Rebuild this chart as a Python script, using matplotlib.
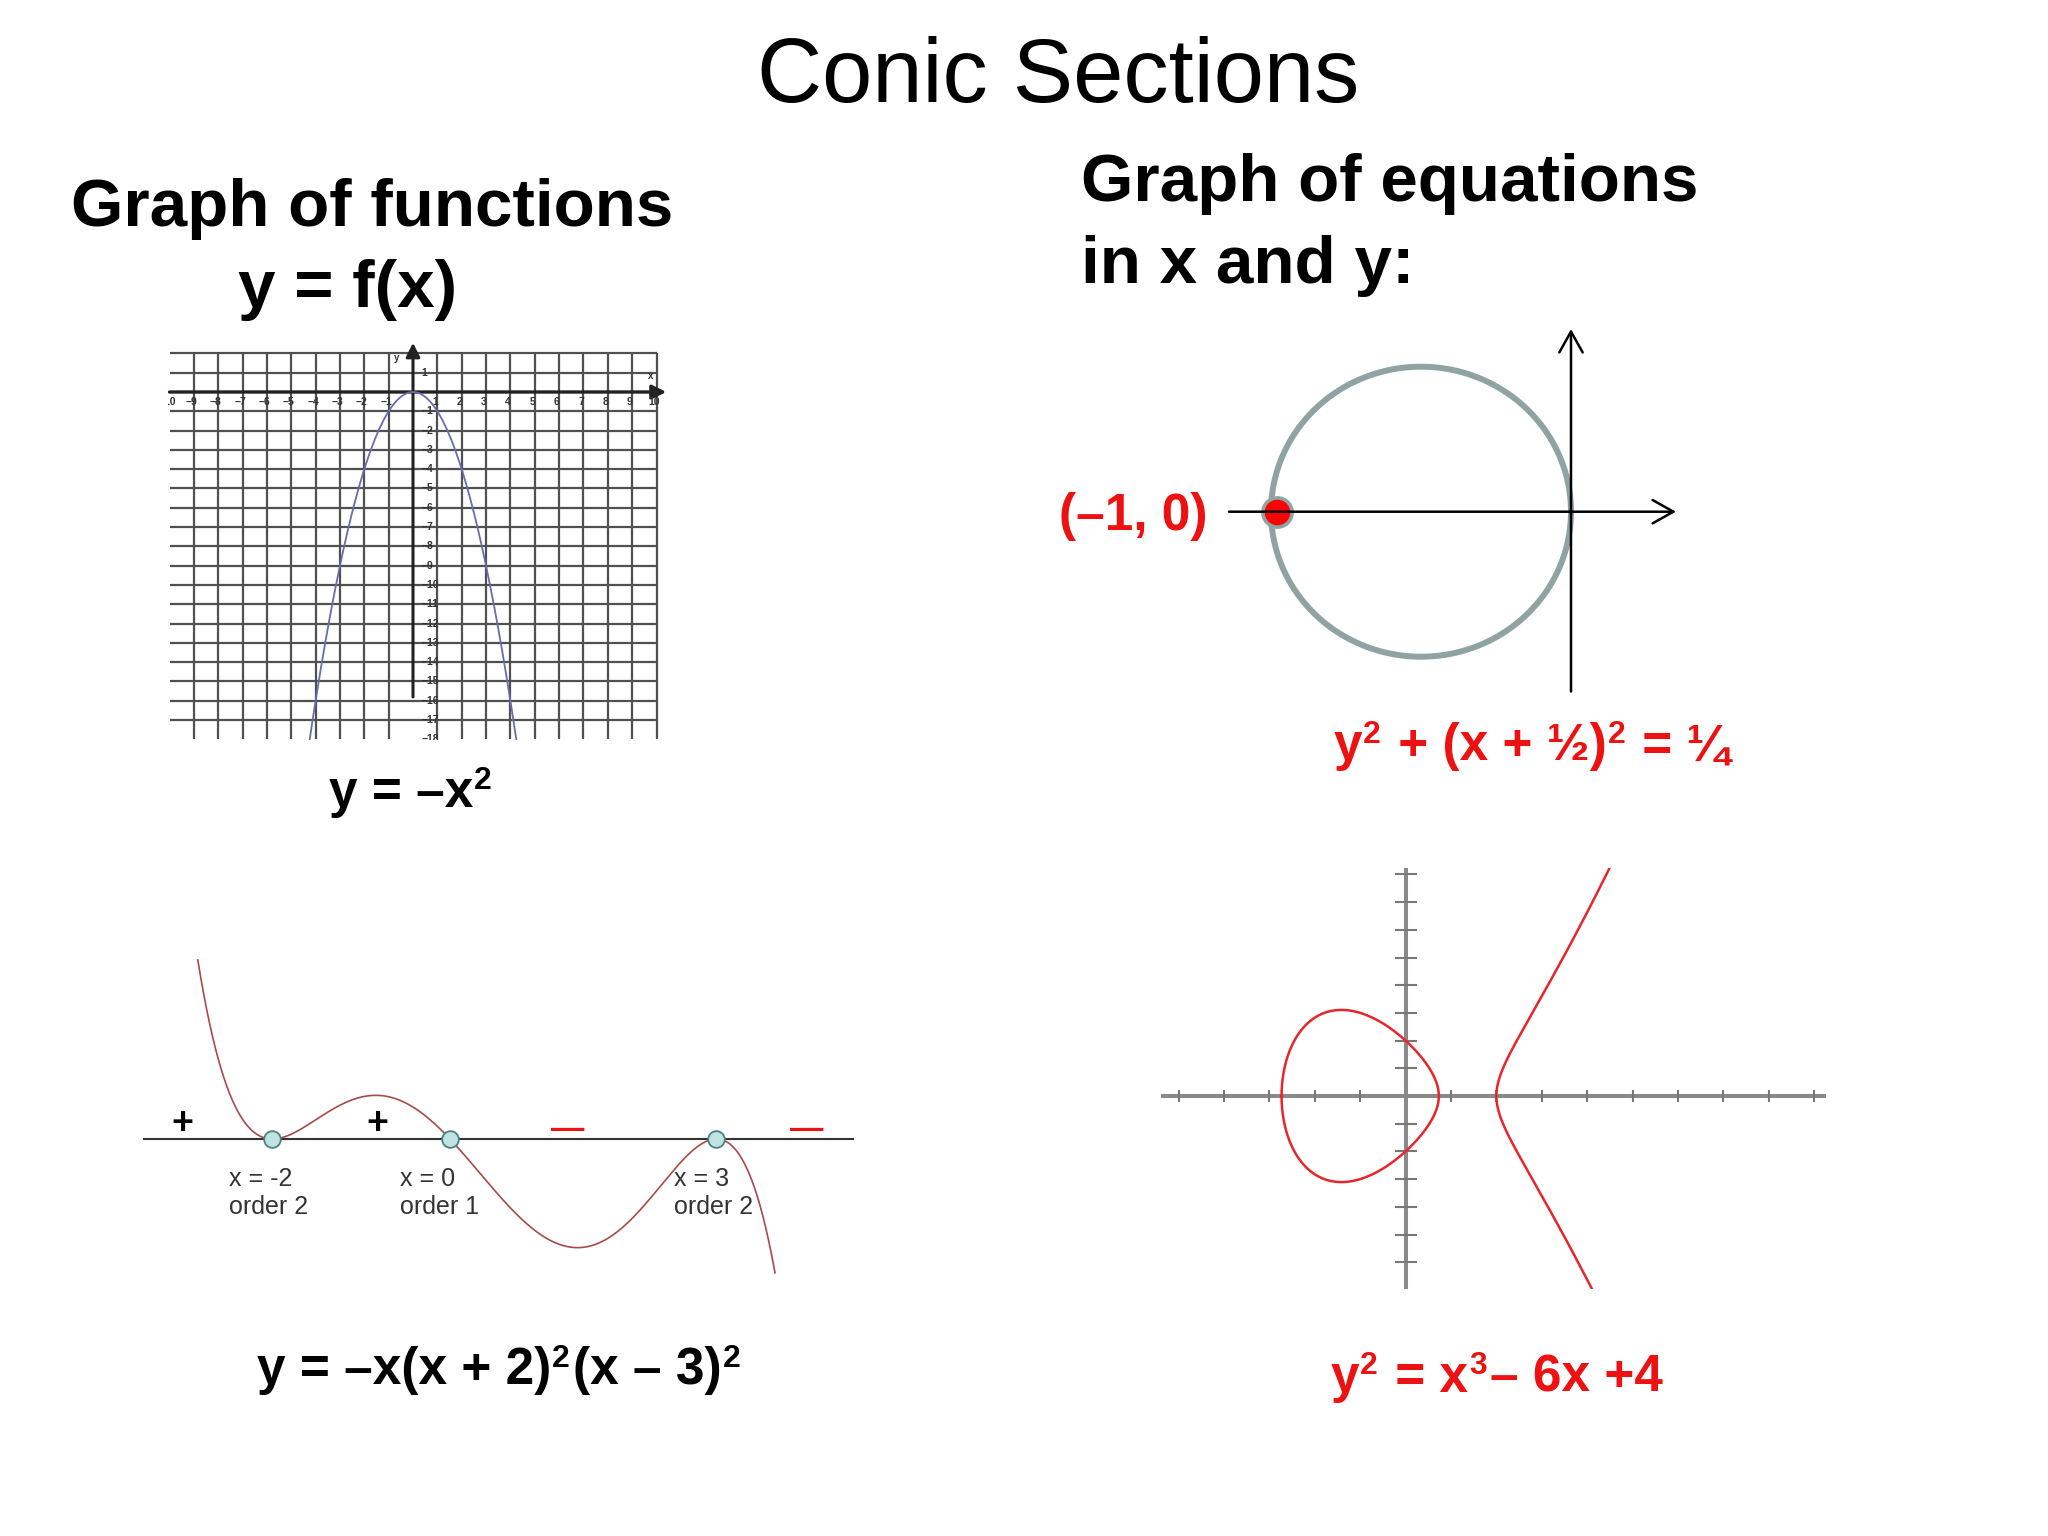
import numpy as np
import matplotlib
matplotlib.use("Agg")
import matplotlib.pyplot as plt

# ------------------------------------------------------------------ data
title = "Conic Sections"
left_heading = ["Graph of functions", "y = f(x)"]
right_heading = ["Graph of equations", "in x and y:"]

# Panel A : parabola y = a*x^2 on a grid
parab_coef = -1.0
parab_x_range = (-4.35, 4.35)
gridA_vlines = [v for v in range(-9, 11) if v != 0]
gridA_hlines = [v for v in range(-17, 3) if v != 0]
gridA_xlabels = [v for v in range(-10, 11) if v != 0]
gridA_ylabels = [1] + list(range(-1, -19, -1))
caption_A = [("y = \u2013x", False), ("2", True)]

# Panel B : y = -x (x+2)^2 (x-3)^2
roots_B = [-2, 0, 3]
orders_B = [2, 1, 2]
lead_sign_B = -1
B_x_range = (-2.84, 3.66)
root_labels_B = ["x = -2\norder 2", "x = 0\norder 1", "x = 3\norder 2"]
root_label_x_B = [-2.49, -0.565, 2.52]
sign_x_B = [-3.02, -0.815, 1.33, 4.02]
sign_text_B = ["+", "+", "\u2014", "\u2014"]
sign_color_B = ["black", "black", "#ee1111", "#ee1111"]
caption_B = [("y = \u2013x(x + 2)", False), ("2", True), ("(x \u2013 3)", False), ("2", True)]

# Panel C : circle y^2 + (x + 1/2)^2 = 1/4
circle_center = (-0.5, 0.0)
circle_radius = 0.5
point_C = (-1.0, 0.0)
point_label_C = "(\u20131, 0)"
caption_C = [("y", False), ("2", True), (" + (x + \u00bd)", False), ("2", True), (" = \u00bc", False)]

# Panel D : y^2 = x^3 - 6x + 4
cubic_coef = [1, 0, -6, 4]
D_branch_xmax = 4.7
D_xticks = [v for v in range(-5, 10) if v != 0]
D_yticks = [v for v in range(-6, 9) if v != 0]
caption_D = [("y", False), ("2", True), (" = x", False), ("3", True), ("\u2013 6x +4", False)]

# ------------------------------------------------------------------ figure
W, H, DPI = 2048, 1536, 100
plt.rcParams["font.family"] = ["Liberation Sans", "DejaVu Sans"]
fig = plt.figure(figsize=(W / DPI, H / DPI), dpi=DPI, facecolor="white")
renderer = fig.canvas.get_renderer()


def panel(ox, oy, ux, uy, xlim, ylim):
    left = ox + xlim[0] * ux
    right = ox + xlim[1] * ux
    top = oy - ylim[1] * uy
    bottom = oy - ylim[0] * uy
    ax = fig.add_axes([left / W, 1 - bottom / H, (right - left) / W, (bottom - top) / H])
    ax.set_xlim(*xlim)
    ax.set_ylim(*ylim)
    ax.axis("off")
    return ax


def ftext(x, y, s, **kw):
    return fig.text(x / W, 1 - y / H, s, **kw)


def rich_text(xc, ybase, segments, fontsize, color="black", sup_scale=0.62, raise_frac=0.34):
    pieces = []
    total = 0.0
    for s, sup in segments:
        fs = fontsize * sup_scale if sup else fontsize
        t = ftext(0, 0, s, fontsize=fs, fontweight="bold", color=color,
                  ha="left", va="baseline")
        w = t.get_window_extent(renderer).width
        w += fontsize * (0.06 if sup else 0.02) * DPI / 72
        pieces.append((t, w, sup))
        total += w
    x = xc - total / 2
    for t, w, sup in pieces:
        y = ybase - (fontsize * raise_frac * DPI / 72 if sup else 0)
        t.set_position((x / W, 1 - y / H))
        x += w


# ------------------------------------------------------------------ headings
ftext(1058, 102, title, ha="center", va="baseline", fontsize=65, color="black")
ftext(372, 226, left_heading[0], ha="center", va="baseline", fontsize=48.5, fontweight="bold")
ftext(348, 306.7, left_heading[1], ha="center", va="baseline", fontsize=48.5, fontweight="bold")
ftext(1081, 201, right_heading[0], ha="left", va="baseline", fontsize=48.5, fontweight="bold")
ftext(1081, 283, right_heading[1], ha="left", va="baseline", fontsize=48.5, fontweight="bold")

# ------------------------------------------------------------------ panel A
axA = panel(413, 392, 24.35, 19.3, (-10.05, 10.45), (-18.05, 2.6))
axA.hlines(gridA_hlines, -10, 10, color="#505050", lw=1.6)
axA.vlines(gridA_vlines, -18, 2, color="#505050", lw=1.6)
axA.annotate("", xy=(10.4, 0), xytext=(-10, 0),
             arrowprops=dict(arrowstyle="-|>,head_length=0.6,head_width=0.3", color="#222",
                             lw=2.4, mutation_scale=14, shrinkA=0, shrinkB=0))
axA.annotate("", xy=(0, 2.55), xytext=(0, -15.8),
             arrowprops=dict(arrowstyle="-|>,head_length=0.6,head_width=0.3", color="#222",
                             lw=2.2, mutation_scale=14, shrinkA=0, shrinkB=0))
for v in gridA_xlabels:
    axA.text(v - 0.1, -0.5, str(v).replace("-", "\u2212"), fontsize=7.5, ha="center",
             va="center", color="#333", fontweight="bold", clip_on=True)
for v in gridA_ylabels:
    axA.text(0.35, v, str(v).replace("-", "\u2212"), fontsize=7.5, ha="left", va="center",
             color="#333", fontweight="bold", clip_on=True)
axA.text(-0.55, 1.75, "y", fontsize=7, ha="right", va="center", color="#333", fontweight="bold")
axA.text(9.75, 0.55, "x", fontsize=7, ha="center", va="bottom", color="#333", fontweight="bold")
xa = np.linspace(*parab_x_range, 400)
axA.plot(xa, parab_coef * xa ** 2, color="#6b6bb0", lw=1.3, zorder=4)
rich_text(412, 806.7, caption_A, 37)

# ------------------------------------------------------------------ panel B
axB = panel(450, 1139, 88.8, 2.62, (-3.5, 4.6), (-56, 72))
axB.plot([-3.45, 4.54], [0, 0], color="#333", lw=1.5, zorder=2)
xb = np.linspace(*B_x_range, 800)
yb = lead_sign_B * np.ones_like(xb)
for r, o in zip(roots_B, orders_B):
    yb = yb * (xb - r) ** o
axB.plot(xb, yb, color="#a84a4a", lw=1.2, zorder=3, clip_on=False)
axB.plot(roots_B, np.zeros(len(roots_B)), "o", ms=12, mfc="#bfe2e2", mec="#4d8080",
         mew=1.3, zorder=5, clip_on=False)
for x, s, c in zip(sign_x_B, sign_text_B, sign_color_B):
    if s == "+":
        axB.text(x, 5.6, s, fontsize=27, fontweight="bold", color=c, ha="center", va="center")
    else:
        axB.text(x, 3.6, s, fontsize=24, fontweight="bold", color=c, ha="center", va="center")
for x, s in zip(root_label_x_B, root_labels_B):
    axB.text(x, -10.7, s, fontsize=18, color="#333", ha="left", va="top", linespacing=1.2)
rich_text(500, 1384, caption_B, 37)

# ------------------------------------------------------------------ panel C
axC = panel(1571, 511.7, 300, 290, (-1.2, 0.42), (-0.66, 0.66))
tc = np.linspace(0, 2 * np.pi, 500)
axC.plot(circle_center[0] + circle_radius * np.cos(tc),
         circle_center[1] + circle_radius * np.sin(tc), color="#8fa3a3", lw=4.3, zorder=2)
axC.plot(point_C[0] + 0.02, point_C[1], "o", ms=21, mfc="#ff0000", mec="#8fa3a3",
         mew=2.6, zorder=3)
arrow_kw = dict(arrowstyle="->,head_length=0.5,head_width=0.28", color="black", lw=1.8,
                mutation_scale=30, shrinkA=0, shrinkB=0)
axC.annotate("", xy=(0.35, 0), xytext=(-1.14, 0), arrowprops=arrow_kw, zorder=4)
axC.annotate("", xy=(0, 0.63), xytext=(0, -0.62), arrowprops=arrow_kw, zorder=4)
axC.text(-1.213, -0.063, point_label_C, ha="right", va="baseline", fontsize=37,
         fontweight="bold", color="#ee1111")
rich_text(1532, 760, caption_C, 37, color="#ee1111")

# ------------------------------------------------------------------ panel D
axD = panel(1405.6, 1096, 45.4, 27.7, (-5.45, 9.3), (-6.95, 8.23))
axis_col = "#8a8a8a"
axD.plot([-5.38, 9.25], [0, 0], color=axis_col, lw=2.9, zorder=2, solid_capstyle="butt")
axD.plot([0, 0], [-6.95, 8.23], color=axis_col, lw=2.9, zorder=2, solid_capstyle="butt")
axD.plot(D_xticks, np.zeros(len(D_xticks)), "|", ms=9, mew=1.5, color="#777", clip_on=False)
axD.plot(np.zeros(len(D_yticks)), D_yticks, "_", ms=16, mew=1.5, color="#777", clip_on=False)
rts = np.sort(np.roots(cubic_coef).real)
t = np.linspace(0, np.pi, 400)
xo = rts[0] + (rts[1] - rts[0]) * (1 - np.cos(t)) / 2
yo = np.sqrt(np.clip(np.polyval(cubic_coef, xo), 0, None))
axD.plot(np.concatenate([xo, xo[::-1]]), np.concatenate([yo, -yo[::-1]]),
         color="#e8262a", lw=1.8, zorder=3)
s = np.linspace(0, 1, 400)
xr = rts[2] + (D_branch_xmax - rts[2]) * s ** 2
yr = np.sqrt(np.clip(np.polyval(cubic_coef, xr), 0, None))
axD.plot(np.concatenate([xr[::-1], xr]), np.concatenate([yr[::-1], -yr]),
         color="#e8262a", lw=1.8, zorder=3)
rich_text(1497, 1391.7, caption_D, 37, color="#ee1111")

fig.savefig("out.png", dpi=DPI, facecolor="white")
